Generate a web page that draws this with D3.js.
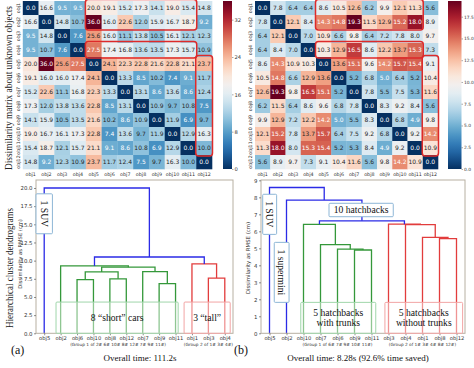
<!DOCTYPE html>
<html><head><meta charset="utf-8">
<script src="https://cdn.jsdelivr.net/npm/d3@7"></script>
<style>body{margin:0;background:#fff}svg{display:block}</style>
</head><body>
<svg id="c" width="474" height="368"></svg>
<script>
// ---------------- DATA ----------------
const objs = ["obj1","obj2","obj3","obj4","obj5","obj6","obj7","obj8","obj9","obj10","obj11","obj12"];
const matrixA = [
 [0.0,16.6,9.5,9.5,20.0,19.1,15.2,17.3,14.1,19.0,15.4,14.8],
 [16.6,0.0,14.8,10.7,36.0,16.0,22.6,12.0,15.9,16.7,18.7,9.2],
 [9.5,14.8,0.0,7.6,25.6,16.0,11.1,13.8,10.5,16.1,12.1,12.3],
 [9.5,10.7,7.6,0.0,27.5,17.4,16.8,13.6,13.5,17.3,15.7,10.9],
 [20.0,36.0,25.6,27.5,0.0,24.1,22.3,22.8,21.6,22.8,21.1,23.7],
 [19.1,16.0,16.0,17.4,24.1,0.0,13.3,8.5,10.2,7.4,9.1,11.7],
 [15.2,22.6,11.1,16.8,22.3,13.3,0.0,13.1,8.6,13.6,8.6,12.4],
 [17.3,12.0,13.8,13.6,22.8,8.5,13.1,0.0,10.9,9.7,10.8,7.5],
 [14.1,15.9,10.5,13.5,21.6,10.2,8.6,10.9,0.0,11.9,6.9,9.7],
 [19.0,16.7,16.1,17.3,22.8,7.4,13.6,9.7,11.9,0.0,12.9,16.3],
 [15.4,18.7,12.1,15.7,21.1,9.1,8.6,10.8,6.9,12.9,0.0,10.0],
 [14.8,9.2,12.3,10.9,23.7,11.7,12.4,7.5,9.7,16.3,10.0,0.0]
];
const matrixB = [
 [0.0,7.8,6.4,6.4,8.6,10.5,12.6,6.2,9.9,12.1,11.3,5.6],
 [7.8,0.0,12.1,8.4,14.3,14.8,19.3,11.5,12.9,15.2,18.0,8.9],
 [6.4,12.1,0.0,7.0,10.9,6.6,9.8,6.4,7.2,7.8,8.0,9.7],
 [6.4,8.4,7.0,0.0,10.3,12.9,16.5,8.6,12.2,13.7,15.3,7.3],
 [8.6,14.3,10.9,10.3,0.0,13.6,15.1,9.6,14.2,15.7,15.4,9.1],
 [10.5,14.8,6.6,12.9,13.6,0.0,5.2,6.8,5.0,6.4,5.2,10.4],
 [12.6,19.3,9.8,16.5,15.1,5.2,0.0,7.8,5.5,7.5,5.3,11.6],
 [6.2,11.5,6.4,8.6,9.6,6.8,7.8,0.0,8.3,9.2,8.4,5.6],
 [9.9,12.9,7.2,12.2,14.2,5.0,5.5,8.3,0.0,6.8,4.9,9.8],
 [12.1,15.2,7.8,13.7,15.7,6.4,7.5,9.2,6.8,0.0,9.2,14.2],
 [11.3,18.0,8.0,15.3,15.4,5.2,5.3,8.4,4.9,9.2,0.0,10.9],
 [5.6,8.9,9.7,7.3,9.1,10.4,11.6,5.6,9.8,14.2,10.9,0.0]
];
const cbarTicksA = [0,8,16,24,32];
const cbarTicksB = [0,2.5,5,7.5,10,12.5,15,17.5];
// highlighted regions: column index range, row index range
const highlights = [{c:[4,10], r:[0,1]}, {c:[4,10], r:[3,3]}, {c:[11,11], r:[4,10]}];

const leavesA = ["obj5","obj2","obj6","obj10","obj8","obj12","obj7","obj9","obj11","obj1","obj3","obj4"];
// merges: [childA, childB, height, color]; children refer to leaves or "m<index>"
const mergesA = [
 ["obj6","obj10",7.4,"g"],["obj8","obj12",7.5,"g"],["m0","m1",8.45,"g"],
 ["obj9","obj11",6.85,"g"],["obj7","m3",8.5,"g"],["m2","m4",9.1,"g"],
 ["obj2","m5",9.28,"g"],["obj3","obj4",7.6,"r"],["obj1","m7",9.55,"r"],
 ["m6","m8",10.5,"b"],["obj5","m9",20.0,"b"]
];
const yTicksA = [0,2.5,5,7.5,10,12.5,15,17.5,20];
const leavesB = ["obj5","obj2","obj10","obj7","obj6","obj9","obj11","obj3","obj4","obj1","obj8","obj12"];
const mergesB = [
 ["obj9","obj11",4.9,"g"],["obj6","m0",4.95,"g"],["obj7","m1",5.22,"g"],["obj10","m2",6.41,"g"],
 ["obj8","obj12",5.57,"r"],["obj1","m4",5.64,"r"],["obj4","m5",6.39,"r"],["obj3","m6",6.42,"r"],
 ["m3","m7",6.62,"b"],["obj2","m8",7.84,"b"],["obj5","m9",8.58,"b"]
];
const yTicksB = [0,1,2,3,4,5,6,7,8,9];
const groupTextA = ["(Group 1 of 2# 6# 10# 8# 12# 7# 9# 11#)", "(Group 2 of 1# 3# 4#)"];
const groupTextB = ["(Group 1 of 6# 7# 9# 10# 11#)", "(Group 2 of 1# 3# 4# 8# 12#)"];

// ---------------- DRAW ----------------
const svg = d3.select("#c");
const SERIF = "'Liberation Serif','Times New Roman',serif";
const SANS = "'DejaVu Sans',sans-serif";
const linkCol = {b:"#2b2be6", g:"#34983a", r:"#e23c3c"};
const spine = "#b7b0a2";

function lum(c){const q=d3.rgb(c);const f=v=>{v/=255;return v<=0.03928?v/12.92:Math.pow((v+0.055)/1.055,2.4)};return 0.2126*f(q.r)+0.7152*f(q.g)+0.0722*f(q.b);}

function heatmap(M, cfg){
  const g = svg.append("g");
  const x = d3.scaleBand().domain(objs).range([cfg.x0,cfg.x1]);
  const y = d3.scaleBand().domain(objs).range([cfg.y0,cfg.y1]);
  const col = v => d3.interpolateRdBu(1 - v/cfg.vmax);
  const cells = [];
  M.forEach((row,i)=>row.forEach((v,j)=>cells.push({r:objs[i],c:objs[j],v})));
  g.selectAll("rect.cell").data(cells).enter().append("rect")
   .attr("x",d=>x(d.c)).attr("y",d=>y(d.r))
   .attr("width",x.bandwidth()+0.3).attr("height",y.bandwidth()+0.3)
   .attr("fill",d=>col(d.v));
  g.selectAll("text.val").data(cells).enter().append("text")
   .attr("x",d=>x(d.c)+x.bandwidth()/2).attr("y",d=>y(d.r)+y.bandwidth()/2)
   .attr("dy","0.35em").attr("text-anchor","middle")
   .attr("font-family",SANS).attr("font-size",6)
   .attr("fill",d=>lum(col(d.v))<0.408?"#ffffff":"#262626")
   .text(d=>d.v.toFixed(1));
  // tick labels
  g.selectAll("text.xl").data(objs).enter().append("text")
   .attr("x",d=>x(d)+x.bandwidth()/2).attr("y",cfg.y1+6.5)
   .attr("text-anchor","middle").attr("font-family",SANS).attr("font-size",4.8).attr("fill","#333")
   .text(d=>d);
  g.selectAll("text.yl").data(objs).enter().append("text")
   .attr("transform",d=>`translate(${cfg.x0-3},${y(d)+y.bandwidth()/2}) rotate(-90)`)
   .attr("text-anchor","middle").attr("font-family",SANS).attr("font-size",4.8).attr("fill","#333")
   .text(d=>d);
  // highlight boxes
  highlights.forEach(h=>{
    const xa = x(objs[h.c[0]]), xb = x(objs[h.c[1]])+x.bandwidth();
    const ya = y(objs[h.r[0]]), yb = y(objs[h.r[1]])+y.bandwidth();
    g.append("rect").attr("x",xa-0.5).attr("y",ya-1.5).attr("width",xb-xa+1).attr("height",yb-ya+2.5)
     .attr("rx",3).attr("fill","none").attr("stroke","#dd2a2a").attr("stroke-width",1.5);
  });
  // colorbar
  const cs = d3.scaleLinear().domain([0,cfg.vmax]).range([cfg.y1,cfg.y0]);
  const gid = "grad"+cfg.id;
  const grad = svg.append("defs").append("linearGradient").attr("id",gid)
    .attr("x1",0).attr("y1",1).attr("x2",0).attr("y2",0);
  d3.range(0,1.0001,0.05).forEach(t=>grad.append("stop").attr("offset",t).attr("stop-color",col(t*cfg.vmax)));
  g.append("rect").attr("x",cfg.cbx).attr("y",cfg.y0).attr("width",cfg.cbw).attr("height",cfg.y1-cfg.y0)
   .attr("fill",`url(#${gid})`);
  const ax = g.append("g").attr("transform",`translate(${cfg.cbx+cfg.cbw},0)`)
   .call(d3.axisRight(cs).tickValues(cfg.ticks).tickSize(1.5).tickPadding(1).tickFormat(cfg.fmt));
  ax.select(".domain").remove();
  ax.selectAll("line").attr("stroke","#555").attr("stroke-width",0.5);
  ax.selectAll("text").attr("font-family",SANS).attr("font-size",cfg.cbfs).attr("fill","#333");
}

heatmap(matrixA,{id:"A",x0:22.8,x1:212,y0:1,y1:169,vmax:36.0,cbx:223,cbw:9,cbfs:5.2,ticks:cbarTicksA,fmt:d3.format("d")});
heatmap(matrixB,{id:"B",x0:255,x1:438,y0:1,y1:169,vmax:19.3,cbx:448,cbw:13.5,cbfs:4.4,ticks:cbarTicksB,fmt:d3.format(".1f")});

// left y label (top)
svg.append("text").attr("transform","translate(12,88) rotate(-90)").attr("text-anchor","middle")
  .attr("font-family",SERIF).attr("font-size",9.6).attr("fill","#222")
  .attr("textLength",164).attr("lengthAdjust","spacingAndGlyphs")
  .text("Dissimilarity matrix about unknown objects");

function dendro(leaves, merges, cfg){
  const g = svg.append("g");
  const x = d3.scalePoint().domain(leaves).range([cfg.x0,cfg.x1]).padding(0.5);
  const xi = d3.scaleLinear().domain([-0.5,leaves.length-0.5]).range([cfg.x0,cfg.x1]);
  const y = d3.scaleLinear().domain([0,cfg.ymax]).range([cfg.y1,cfg.y0]);
  const pos = {};
  leaves.forEach(l=>pos[l]={x:x(l),h:0});
  merges.forEach((m,i)=>{
    const a=pos[m[0]], b=pos[m[1]];
    g.append("path").attr("d",`M${a.x},${y(a.h)}V${y(m[2])}H${b.x}V${y(b.h)}`)
     .attr("fill","none").attr("stroke",linkCol[m[3]]).attr("stroke-width",1.3);
    pos["m"+i]={x:(a.x+b.x)/2,h:m[2]};
  });
  // frame
  g.append("rect").attr("x",cfg.x0).attr("y",cfg.y0).attr("width",cfg.x1-cfg.x0).attr("height",cfg.y1-cfg.y0)
   .attr("fill","none").attr("stroke",spine).attr("stroke-width",1);
  const ay = g.append("g").attr("transform",`translate(${cfg.x0},0)`)
   .call(d3.axisLeft(y).tickValues(cfg.yticks).tickSize(2).tickPadding(1.5).tickFormat(cfg.fmt));
  ay.select(".domain").remove();
  ay.selectAll("line").attr("stroke","#444").attr("stroke-width",0.6);
  ay.selectAll("text").attr("font-family",SANS).attr("font-size",5.4).attr("fill","#333");
  const axx = g.append("g").attr("transform",`translate(0,${cfg.y1})`)
   .call(d3.axisBottom(x).tickSize(2).tickPadding(1.5));
  axx.select(".domain").remove();
  axx.selectAll("line").attr("stroke","#444").attr("stroke-width",0.6);
  axx.selectAll("text").attr("font-family",SANS).attr("font-size",5.2).attr("fill","#333");
  // annotation boxes
  cfg.boxes.forEach(bx=>{
    const xa=xi(bx.i[0]), xb=xi(bx.i[1]), ya=y(bx.h[1]), yb=y(bx.h[0]);
    g.append("rect").attr("x",xa).attr("y",ya).attr("width",xb-xa).attr("height",yb-ya).attr("rx",1)
     .attr("fill",bx.fill).attr("stroke",bx.stroke).attr("stroke-width",1);
    const cx=(xa+xb)/2, cy=(ya+yb)/2;
    const t = g.append("text").attr("text-anchor","middle").attr("font-family",SERIF)
      .attr("font-size",bx.fs||9.6).attr("fill","#111");
    if(bx.rot){ t.attr("transform",`translate(${cx},${cy}) rotate(90)`).attr("dy","0.35em").text(bx.text[0]); }
    else {
      const n=bx.text.length;
      bx.text.forEach((s,k)=>t.append("tspan").attr("x",cx).attr("y",cy+(k-(n-1)/2)*10).attr("dy","0.35em").text(s));
    }
  });
  // group texts
  cfg.groups.forEach(gr=>{
    g.append("text").attr("x",(xi(gr.i[0])+xi(gr.i[1]))/2).attr("y",cfg.y1+12.5)
     .attr("text-anchor","middle").attr("font-family",SANS).attr("font-size",4.3).attr("fill","#333").text(gr.t);
  });
  return g;
}

dendro(leavesA, mergesA, {x0:36,x1:233,y0:180,y1:333.3,ymax:21.1,yticks:yTicksA,fmt:d3.format(".1f"),
  boxes:[
    {i:[-0.5,0.5],h:[13.7,19.2],text:["1 SUV"],rot:true,fill:"#fff",stroke:"#8db6d6"},
    {i:[0.72,8.16],h:[0,4.3],text:["8 \u201cshort\u201d cars"],fill:"rgba(255,255,255,0.45)",stroke:"#9fd6aa"},
    {i:[8.52,11.33],h:[0,4.3],text:["3 \u201ctall\u201d"],fill:"rgba(255,255,255,0.45)",stroke:"#f2a4a4"}
  ],
  groups:[{i:[0.5,8.5],t:groupTextA[0]},{i:[8.5,11.5],t:groupTextA[1]}]
});
dendro(leavesB, mergesB, {x0:261,x1:465,y0:180,y1:333.3,ymax:9.02,yticks:yTicksB,fmt:d3.format("d"),
  boxes:[
    {i:[-0.4,0.42],h:[5.82,8.18],text:["1 SUV"],rot:true,fill:"#fff",stroke:"#8db6d6"},
    {i:[0.28,1.15],h:[1.82,5.35],text:["1 supermini"],rot:true,fill:"#fff",stroke:"#8db6d6"},
    {i:[3.5,7.28],h:[6.86,7.65],text:["10 hatchbacks"],fill:"#fff",stroke:"#8db6d6"},
    {i:[1.84,6.25],h:[0,1.82],text:["5 hatchbacks","with trunks"],fill:"rgba(255,255,255,0.45)",stroke:"#9fd6aa"},
    {i:[6.79,11.36],h:[0,1.82],text:["5 hatchbacks","without trunks"],fill:"rgba(255,255,255,0.45)",stroke:"#f2a4a4"}
  ],
  groups:[{i:[1.5,6.5],t:groupTextB[0]},{i:[6.5,11.5],t:groupTextB[1]}]
});

// y labels for dendrograms
svg.append("text").attr("transform","translate(13,268) rotate(-90)").attr("text-anchor","middle")
  .attr("font-family",SERIF).attr("font-size",9.6).attr("fill","#222")
  .attr("textLength",120).attr("lengthAdjust","spacingAndGlyphs").text("Hierarchical cluster dendrograms");
svg.append("text").attr("transform","translate(22,254) rotate(-90)").attr("text-anchor","middle")
  .attr("font-family",SANS).attr("font-size",5.2).attr("fill","#333").text("Dissimilarity as RMSE (cm)");
svg.append("text").attr("transform","translate(250,258) rotate(-90)").attr("text-anchor","middle")
  .attr("font-family",SANS).attr("font-size",5.4).attr("fill","#333").text("Dissimilarity as RMSE (cm)");

// panel letters and timings
svg.append("text").attr("x",11).attr("y",354).attr("font-family",SERIF).attr("font-size",12).attr("fill","#111").text("(a)");
svg.append("text").attr("x",234).attr("y",354).attr("font-family",SERIF).attr("font-size",12).attr("fill","#111").text("(b)");
svg.append("text").attr("x",140).attr("y",361).attr("text-anchor","middle").attr("font-family",SERIF).attr("font-size",9).attr("fill","#111").text("Overall time: 111.2s");
svg.append("text").attr("x",358).attr("y",361).attr("text-anchor","middle").attr("font-family",SERIF).attr("font-size",9).attr("fill","#111").text("Overall time: 8.28s (92.6% time saved)");
</script>
</body></html>
